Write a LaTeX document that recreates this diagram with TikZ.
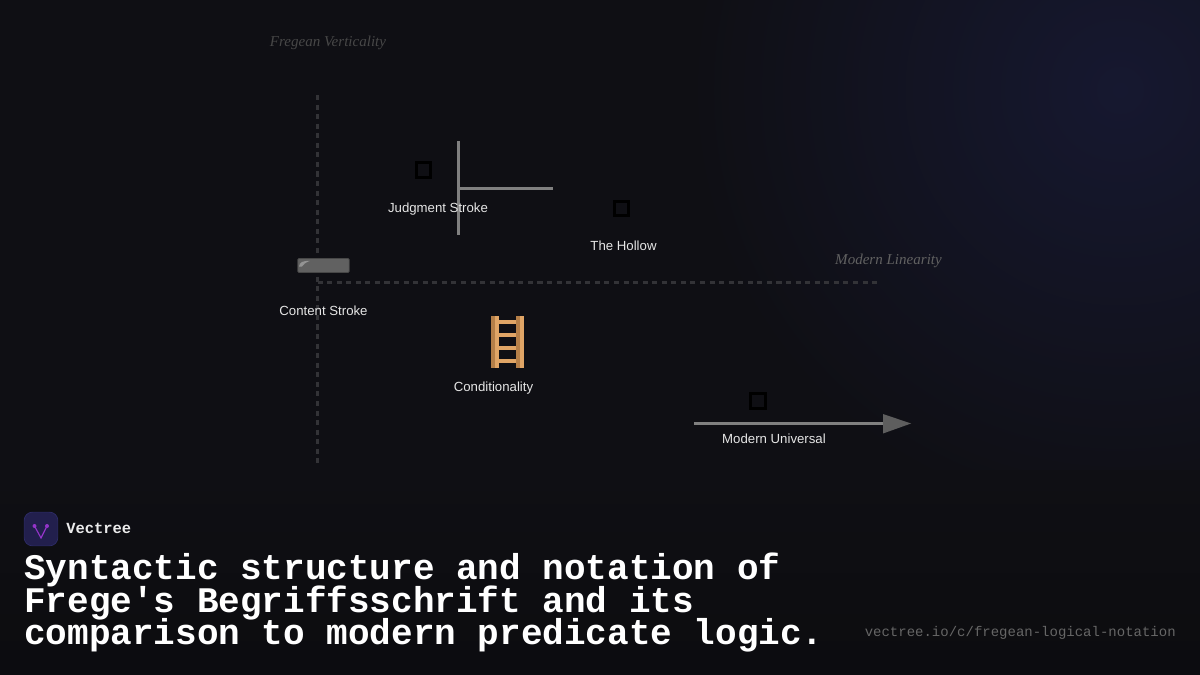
\documentclass[tikz,border=0pt]{standalone}
\usepackage{fontspec}
\setmainfont{Liberation Sans}
\setmonofont{Liberation Mono}
\newfontfamily\notefont{Liberation Serif}
\newcommand{\tightlines}{\setlength{\lineskiplimit}{-20pt}}
\definecolor{bgbase}{HTML}{0F0F14}
\definecolor{bgblue}{HTML}{161830}
\definecolor{bgdark}{HTML}{0C0C0F}
\definecolor{axisgray}{HTML}{333337}
\definecolor{strokegray}{HTML}{808080}
\definecolor{headgray}{HTML}{5E5E5E}
\definecolor{wooddark}{HTML}{B57F48}
\definecolor{woodlight}{HTML}{E0A566}
\definecolor{logofill}{HTML}{221F4D}
\definecolor{logoline}{HTML}{2D2B66}
\definecolor{logomark}{HTML}{9334C8}
\begin{document}
\begin{tikzpicture}[
  x=0.025cm, y=-0.025cm,
  axis/.style={axisgray, line width=1.45pt, dash pattern=on 3.6pt off 3.2pt},
  stroke/.style={strokegray, line width=2.1pt},
  hollow/.style={rectangle, draw=black, line width=2.1pt, fill=none, minimum size=10.6pt, inner sep=0pt},
  label/.style={font=\fontsize{9.4pt}{11pt}\selectfont, text=black!10, inner sep=0pt, anchor=base},
  note/.style={font=\fontsize{10.7pt}{13pt}\selectfont\notefont\itshape, inner sep=0pt, anchor=base},
  rung/.style={line width=2.6pt, woodlight}
]
  % background
  \fill[bgbase] (0,0) rectangle (1200,675);
  \begin{scope}
    \clip (0,0) rectangle (1200,675);
    \shade[inner color=bgblue, outer color=bgbase] (1120,90) circle (430);
    \shade[top color=bgbase, bottom color=bgdark, opacity=0.8] (0,470) rectangle (1200,675);
  \end{scope}

  % axes
  \coordinate (vtop) at (317.5,95);
  \coordinate (vbot) at (317.5,466);
  \coordinate (hleft) at (317.5,282.5);
  \coordinate (hright) at (878,282.5);
  \draw[axis] (vtop) -- (vbot);
  \draw[axis] (hleft) -- (hright);
  \node[note, text=black!72] (fregean) at (328,47) {Fregean Verticality};
  \node[note, text=black!62] (modern) at (888.5,264) {Modern Linearity};

  % judgment stroke
  \node[hollow] (judgmentbox) at (423.5,170.3) {};
  \coordinate (jtop) at (458.5,141);
  \coordinate (jbot) at (458.5,235);
  \coordinate (jmid) at (458.5,188.3);
  \coordinate (jend) at (553,188.3);
  \draw[stroke] (jtop) -- (jbot);
  \draw[stroke] (jmid) -- (jend);
  \node[label] (judgment) at (438,212) {Judgment Stroke};

  % the hollow
  \node[hollow] (hollowbox) at (621.5,208.5) {};
  \node[label] (thehollow) at (623.5,250) {The Hollow};

  % content stroke
  \node[rectangle, rounded corners=0.7pt, fill=black!62, draw=black!72, line width=0.5pt,
    minimum width=36.5pt, minimum height=10pt, inner sep=0pt] (bar) at (323.5,265.5) {};
  \fill[black!42] (299,266.5) .. controls (299.5,262) and (303,260.8) .. (310,260.8)
    .. controls (306,262.5) and (303,264) .. (302,266.5) -- cycle;
  \node[label] (content) at (323.5,315) {Content Stroke};

  % conditionality
  \foreach \y in {322,335,348,361}
    \draw[rung] (497,\y) -- (517,\y);
  \foreach \x in {491,516}{
    \fill[wooddark] (\x,316) rectangle ++(3.8,52);
    \fill[woodlight] (\x+3.8,316) rectangle ++(3.8,52);
  }
  \node[label] (cond) at (493.5,391) {Conditionality};

  % modern universal
  \node[hollow] (universalbox) at (758,401) {};
  \coordinate (ustart) at (694,423.5);
  \coordinate (uend) at (884,423.5);
  \coordinate (utip) at (911,423.5);
  \draw[stroke] (ustart) -- (uend);
  \fill[headgray] (883,414) -- (utip) -- (883,433.5) -- cycle;
  \node[label] (universal) at (774,443) {Modern Universal};

  % brand
  \node[rectangle, rounded corners=6pt, fill=logofill, draw=logoline, line width=0.5pt,
    minimum size=24pt, inner sep=0pt] (logo) at (41,529) {};
  \coordinate (vleft) at (34.5,526);
  \coordinate (vright) at (47,526);
  \coordinate (vfoot) at (41,538);
  \draw[logomark, line width=0.8pt] (vleft) -- (vfoot) -- (vright);
  \fill[logomark] (vleft) circle (2) (vright) circle (2);
  \node[anchor=west, inner sep=0pt, text=black!8, font=\fontsize{11pt}{13pt}\selectfont\ttfamily\bfseries] (brand) at (66,528.5) {Vectree};

  % caption
  \node[anchor=north west, align=left, inner sep=0pt, text=white,
    font=\fontsize{25.6pt}{23.05pt}\selectfont\ttfamily\bfseries\tightlines] (title) at (24,553)
    {Syntactic structure and notation of\\Frege's Begriffsschrift and its\\comparison to modern predicate logic.};
  \node[anchor=east, inner sep=0pt, text=black!60, font=\fontsize{9.96pt}{12pt}\selectfont\ttfamily] (url) at (1176,633)
    {vectree.io/c/fregean-logical-notation};
\end{tikzpicture}
\end{document}
